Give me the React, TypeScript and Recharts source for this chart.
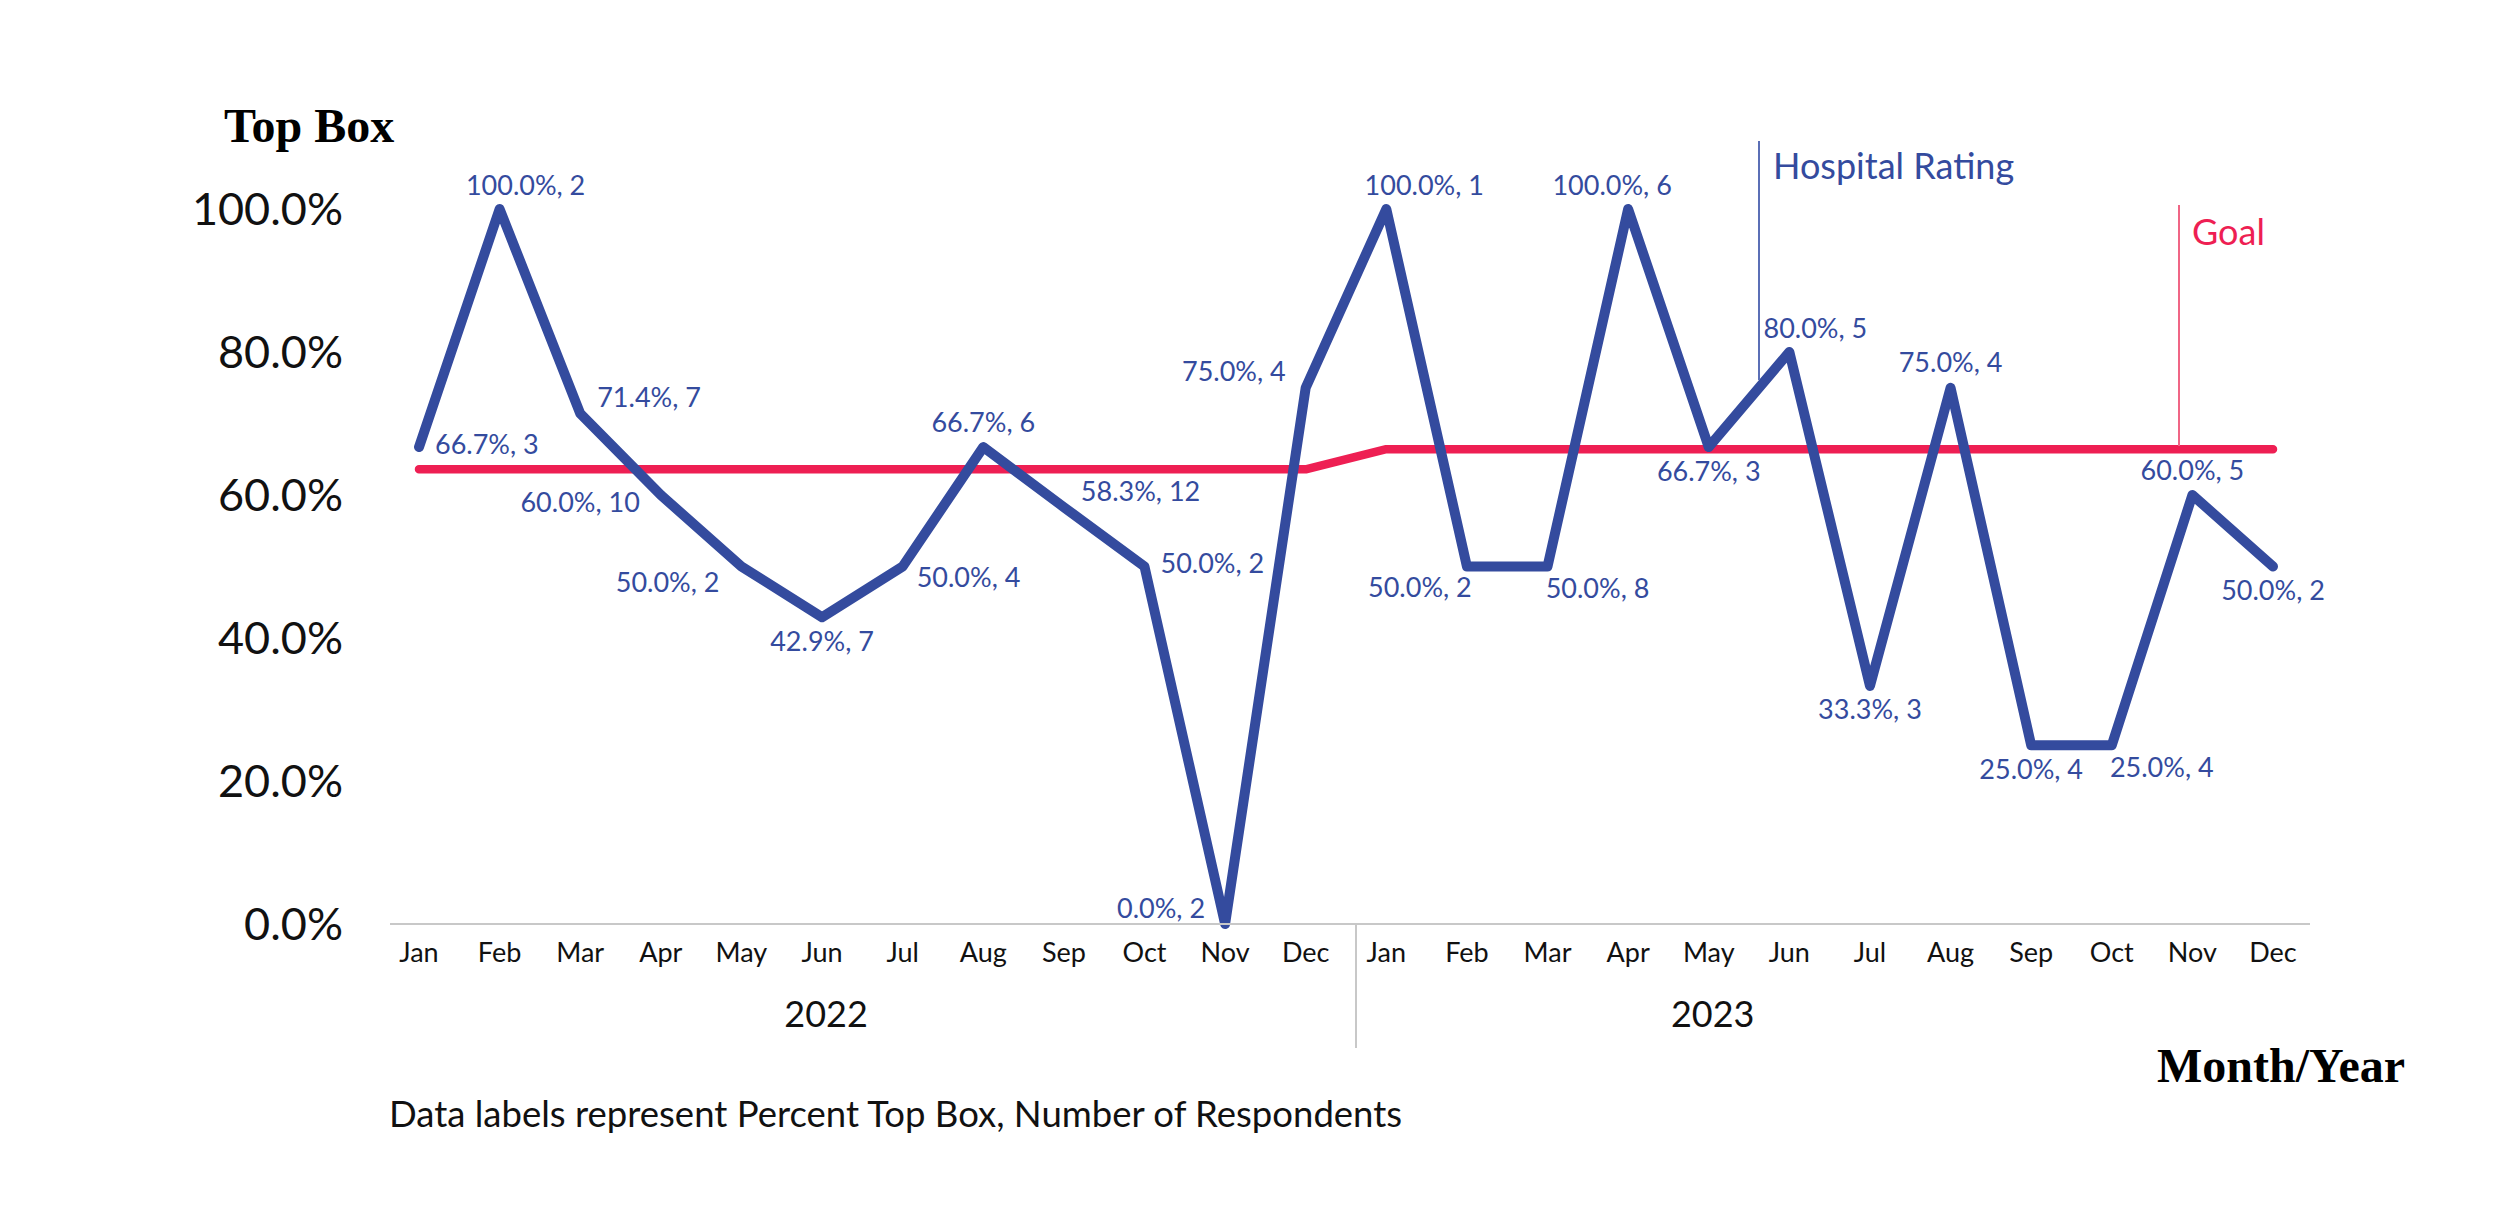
import { LineChart, Line, XAxis, YAxis, LabelList } from 'recharts';

const months = ['Jan', 'Feb', 'Mar', 'Apr', 'May', 'Jun', 'Jul', 'Aug', 'Sep', 'Oct', 'Nov', 'Dec'];
const years = ['2022', '2023'];

// percent top box and number of respondents, Jan 2022 .. Dec 2023
const topBox = [
  66.7, 100.0, 71.4, 60.0, 50.0, 42.9, 50.0, 66.7, 58.3, 50.0, 0.0, 75.0,
  100.0, 50.0, 50.0, 100.0, 66.7, 80.0, 33.3, 75.0, 25.0, 25.0, 60.0, 50.0,
];
const respondents = [
  3, 2, 7, 10, 2, 7, 4, 6, 12, 2, 2, 4,
  1, 2, 8, 6, 3, 5, 3, 4, 4, 4, 5, 2,
];
const goalByYear = [63.6, 66.4];
const yTicks = [0, 20, 40, 60, 80, 100];

// where each point's data label sits relative to the point
const labelSpot = [
  'right', 'aboveRight', 'rightUp', 'left', 'leftDown', 'below', 'rightDown', 'above', 'rightUp', 'right', 'leftUp', 'leftUp',
  'aboveFarRight', 'belowLeft', 'belowRight', 'aboveLeft', 'below', 'aboveRight', 'below', 'above', 'below', 'belowRight', 'above', 'below',
];
// month index under which each year caption is written
const yearCaptionAt = [5, 16];

const spotStyle: Record<string, { dx: number; dy: number; anchor: 'start' | 'middle' | 'end' }> = {
  right: { dx: 16, dy: -3, anchor: 'start' },
  rightUp: { dx: 17, dy: -16, anchor: 'start' },
  rightDown: { dx: 14, dy: 11, anchor: 'start' },
  left: { dx: -21, dy: 7, anchor: 'end' },
  leftDown: { dx: -22, dy: 16, anchor: 'end' },
  leftUp: { dx: -20, dy: -16, anchor: 'end' },
  above: { dx: 0, dy: -25, anchor: 'middle' },
  aboveRight: { dx: 26, dy: -24, anchor: 'middle' },
  aboveFarRight: { dx: 38, dy: -24, anchor: 'middle' },
  aboveLeft: { dx: -16, dy: -24, anchor: 'middle' },
  below: { dx: 0, dy: 24, anchor: 'middle' },
  belowLeft: { dx: -47, dy: 21, anchor: 'middle' },
  belowRight: { dx: 50, dy: 22, anchor: 'middle' },
};

const rows = years.flatMap((yr, yi) =>
  months.map((m, mi) => {
    const i = yi * 12 + mi;
    return { key: `${m} ${yr}`, month: m, year: yr, rating: topBox[i], goal: goalByYear[yi], n: respondents[i] };
  })
);

const W = 2500;
const H = 1224;
const PLOT_LEFT = 390;
const PLOT_RIGHT = 2310;
const PLOT_TOP = 209;
const PLOT_BOTTOM = 924;
const PAD_L = 29;
const PAD_R = 37;
const STEP = (PLOT_RIGHT - PLOT_LEFT - PAD_L - PAD_R) / (rows.length - 1);

const BLUE = '#344b9e';
const RED = '#ee1f53';
const FONT = 'Lato, "Open Sans", sans-serif';
const SERIF = '"Liberation Serif", "DejaVu Serif", serif';

const MonthTick = (props: any) => {
  const { x, y, payload } = props;
  const idx = props.index ?? payload.index;
  const row = rows[idx];
  return (
    <g>
      <text x={x} y={y + 38} textAnchor="middle" fontFamily={FONT} fontSize={27} fill="#111">
        {row.month}
      </text>
      {yearCaptionAt.includes(idx) && (
        <text x={x + 4} y={y + 103} textAnchor="middle" fontFamily={FONT} fontSize={36} fill="#111">
          {row.year}
        </text>
      )}
      {idx === 11 && (
        <line x1={x + STEP / 2 + 10} x2={x + STEP / 2 + 10} y1={y} y2={y + 124} stroke="#c8c8c8" strokeWidth={2} />
      )}
    </g>
  );
};

const PointLabel = (props: any) => {
  const { x, y, value, index } = props;
  const s = spotStyle[labelSpot[index]];
  return (
    <text x={x + s.dx} y={y + s.dy + 9.5} textAnchor={s.anchor} fontFamily={FONT} fontSize={27} fill={BLUE}>
      {`${Number(value).toFixed(1)}%, ${respondents[index]}`}
    </text>
  );
};

const App = () => {
  return (
    <div style={{ position: 'absolute', left: 0, top: 0, width: W, height: H, background: '#fff' }}>
      <LineChart
        width={W}
        height={H}
        data={rows}
        margin={{ top: PLOT_TOP, right: W - PLOT_RIGHT, left: PLOT_LEFT - 100, bottom: H - PLOT_BOTTOM - 60 }}
      >
        <XAxis
          dataKey="key"
          type="category"
          padding={{ left: PAD_L, right: PAD_R }}
          height={60}
          interval={0}
          tickLine={false}
          tickSize={0}
          tickMargin={0}
          axisLine={{ stroke: '#c8c8c8', strokeWidth: 2 }}
          tick={<MonthTick />}
        />
        <YAxis
          width={100}
          domain={[0, 100]}
          ticks={yTicks}
          axisLine={false}
          tickLine={false}
          tickSize={0}
          tickMargin={47}
          tickFormatter={(v: number) => `${v.toFixed(1)}%`}
          tick={{ fontFamily: FONT, fontSize: 45, fill: '#111' }}
        />
        <Line
          dataKey="goal"
          stroke={RED}
          strokeWidth={8.5}
          strokeLinecap="round"
          strokeLinejoin="round"
          dot={false}
          activeDot={false}
          isAnimationActive={false}
        />
        <Line
          dataKey="rating"
          stroke={BLUE}
          strokeWidth={10}
          strokeLinecap="round"
          strokeLinejoin="round"
          dot={false}
          activeDot={false}
          isAnimationActive={false}
        >
          <LabelList dataKey="rating" content={<PointLabel />} />
        </Line>
      </LineChart>

      <svg width={W} height={H} style={{ position: 'absolute', left: 0, top: 0, pointerEvents: 'none' }}>
        <text x={224} y={142} fontFamily={SERIF} fontWeight="bold" fontSize={48} fill="#000">
          Top Box
        </text>
        <text x={2405} y={1082} textAnchor="end" fontFamily={SERIF} fontWeight="bold" fontSize={48} fill="#000">
          Month/Year
        </text>
        <text x={389} y={1127} fontFamily={FONT} fontSize={36.5} fill="#111">
          Data labels represent Percent Top Box, Number of Respondents
        </text>

        <line x1={1759} x2={1759} y1={141} y2={380} stroke="#5b6fb6" strokeWidth={2} />
        <text x={1773} y={179} fontFamily={FONT} fontSize={36} fill={BLUE}>
          Hospital Rating
        </text>
        <line x1={2179} x2={2179} y1={205} y2={446} stroke="#f06585" strokeWidth={2} />
        <text x={2192} y={245} fontFamily={FONT} fontSize={36} fill={RED}>
          Goal
        </text>
      </svg>
    </div>
  );
};

export default App;
